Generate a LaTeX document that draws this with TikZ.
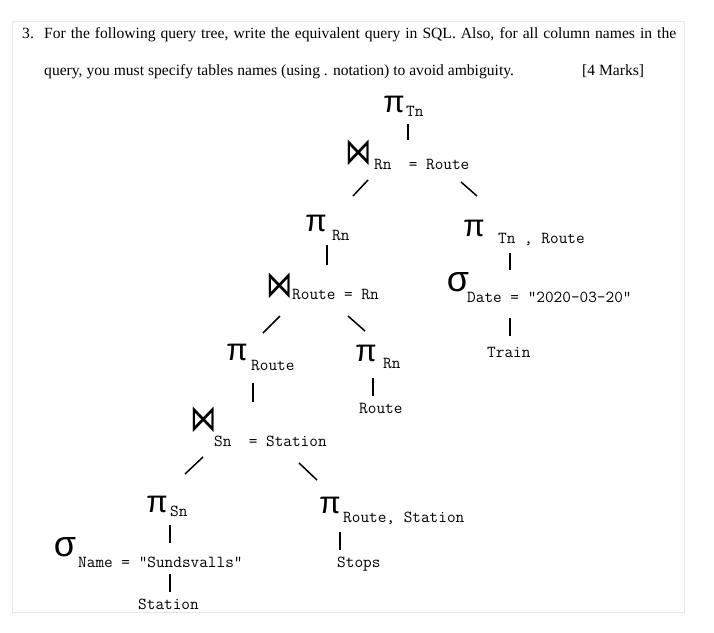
\documentclass[tikz,border=0pt]{standalone}
\usepackage{fontspec}
\setmainfont{Liberation Serif}
\newfontfamily\symsans{Liberation Sans}
\newfontfamily\symdejavu{DejaVu Sans}
\begin{document}
\begin{tikzpicture}[x=1pt,y=-1pt,
  hdr/.style={font=\fontsize{15.6}{18}\selectfont, inner sep=0, anchor=base west},
  lbl/.style={font=\ttfamily\fontsize{16.8}{18}\selectfont, inner sep=0, anchor=base west},
  piop/.style={font=\symsans\fontsize{31}{33}\selectfont, inner sep=0},
  joinop/.style={font=\symdejavu\fontsize{22}{24}\selectfont, inner sep=0},
  sigop/.style={font=\symsans\fontsize{36}{38}\selectfont, inner sep=0},
  edge/.style={line width=1.5pt, black}]
\newcommand{\bowtiesym}{\scalebox{1.2}[1.7]{⋈}}
\useasboundingbox (0,0) rectangle (714,632);
\draw[line width=0.8pt, black!9] (12,21) rectangle (684,612);
% header
\node[hdr] (num) at (22,38) {3.};
\node[hdr] (l1) at (44,38) {\makebox[632pt][s]{For the following query tree, write the equivalent query in SQL. Also, for all column names in the}};
\node[hdr] (l2) at (44,75) {query, you must specify tables names (using . notation) to avoid ambiguity.};
\node[hdr] (marks) at (582,75) {[4 Marks]};
% operators
\node[piop] (p1) at (394,104) {π};
\node[lbl] (p1s) at (406,116) {Tn};
\node[joinop] (j1) at (359,153) {\bowtiesym};
\node[lbl] (j1s) at (374,169) {Rn~~= Route};
\node[piop] (p2) at (316,223) {π};
\node[lbl] (p2s) at (332,240) {Rn};
\node[piop] (p7) at (474,228) {π};
\node[lbl] (p7s) at (498,243) {Tn , Route};
\node[joinop] (j2) at (280,286) {\bowtiesym};
\node[lbl] (j2s) at (292,299) {Route = Rn};
\node[sigop] (s2) at (458,282) {σ};
\node[lbl] (s2s) at (467,302) {Date = "2020-03-20"};
\node[lbl] (train) at (487,357) {Train};
\node[piop] (p3) at (237,352) {π};
\node[lbl] (p3s) at (251,370) {Route};
\node[piop] (p4) at (366,353) {π};
\node[lbl] (p4s) at (383,368) {Rn};
\node[lbl] (route) at (359,413) {Route};
\node[joinop] (j3) at (204,420) {\bowtiesym};
\node[lbl] (j3s) at (214,446) {Sn~~= Station};
\node[piop] (p5) at (157,504) {π};
\node[lbl] (p5s) at (170,516) {Sn};
\node[piop] (p6) at (330,505) {π};
\node[lbl] (p6s) at (343,522) {Route, Station};
\node[sigop] (s1) at (65,547) {σ};
\node[lbl] (s1s) at (78,567) {Name = "Sundsvalls"};
\node[lbl] (stops) at (337,567) {Stops};
\node[lbl] (station) at (138,609) {Station};
% connector strokes
\coordinate (a1) at (408,124); \coordinate (b1) at (408,140);
\coordinate (a2) at (353,196); \coordinate (b2) at (368,180);
\coordinate (a3) at (461,182); \coordinate (b3) at (477,196);
\coordinate (a4) at (327,245); \coordinate (b4) at (327,265);
\coordinate (a5) at (263,333); \coordinate (b5) at (280,316);
\coordinate (a6) at (348,316); \coordinate (b6) at (365,331);
\coordinate (a7) at (253,383); \coordinate (b7) at (253,402);
\coordinate (a8) at (373,378); \coordinate (b8) at (373,396);
\coordinate (a9) at (510,253); \coordinate (b9) at (510,270);
\coordinate (a10) at (510,318); \coordinate (b10) at (510,336);
\coordinate (a11) at (185,474); \coordinate (b11) at (203,457);
\coordinate (a12) at (299,463); \coordinate (b12) at (317,480);
\coordinate (a13) at (170,525); \coordinate (b13) at (170,543);
\coordinate (a14) at (170,574); \coordinate (b14) at (170,592);
\coordinate (a15) at (340,532); \coordinate (b15) at (340,550);
\foreach \i in {1,...,15} { \draw[edge] (a\i) -- (b\i); }
\end{tikzpicture}
\end{document}
